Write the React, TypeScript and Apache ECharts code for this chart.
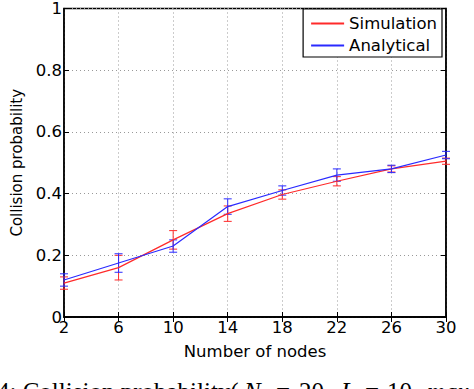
import React, { useEffect, useRef } from "react";
import * as echarts from "echarts";

const nodes = ["2", "6", "10", "14", "18", "22", "26", "30"];
const simulation = [0.11, 0.16, 0.25, 0.335, 0.397, 0.44, 0.48, 0.505];
const simulationErr = [0.02, 0.04, 0.03, 0.025, 0.015, 0.015, 0.01, 0.01];
const analytical = [0.12, 0.175, 0.23, 0.358, 0.41, 0.46, 0.48, 0.525];
const analyticalErr = [0.02, 0.03, 0.02, 0.025, 0.015, 0.02, 0.012, 0.012];

const RED = "#ff2a2a";
const BLUE = "#2a2aff";

function errorSeries(name: string, vals: number[], errs: number[], color: string) {
  const data = vals.map((v, i) => [i, v - errs[i], v + errs[i]]);
  return {
    type: "custom",
    name: name + " err",
    silent: true,
    z: 3,
    renderItem: (params: any, api: any) => {
      const x = api.value(0);
      const lo = api.coord([x, api.value(1)]);
      const hi = api.coord([x, api.value(2)]);
      const w = 4;
      const style = { stroke: color, lineWidth: 1, fill: "none" };
      return {
        type: "group",
        children: [
          { type: "line", shape: { x1: lo[0], y1: lo[1], x2: hi[0], y2: hi[1] }, style },
          { type: "line", shape: { x1: lo[0] - w, y1: lo[1], x2: lo[0] + w, y2: lo[1] }, style },
          { type: "line", shape: { x1: hi[0] - w, y1: hi[1], x2: hi[0] + w, y2: hi[1] }, style },
        ],
      };
    },
    data,
  };
}

const serif = "'Liberation Serif', 'Times New Roman', serif";
function cap(text: string, x: number, italic = false) {
  return {
    type: "text",
    x,
    y: 391,
    style: {
      text,
      fontSize: 25,
      fontFamily: serif,
      fontStyle: italic ? "italic" : "normal",
      fill: "#000",
      verticalAlign: "middle",
      align: "left",
    },
  };
}

export default function App() {
  const ref = useRef<HTMLDivElement>(null);
  useEffect(() => {
    if (!ref.current) return;
    const chart = echarts.init(ref.current, null, { renderer: "svg" });
    const font = "'DejaVu Sans', sans-serif";
    const grid = { left: 64, right: 28, top: 5, bottom: 72 };
    chart.setOption({
      animation: false,
      backgroundColor: "#fff",
      textStyle: { fontFamily: font },
      grid: { ...grid, show: true, borderColor: "#000", borderWidth: 1.5, backgroundColor: "transparent" },
      legend: {
        right: 32,
        top: 9,
        orient: "vertical",
        backgroundColor: "#fff",
        borderColor: "#000",
        borderWidth: 1.2,
        padding: [6, 5, 3, 8],
        itemGap: 5,
        itemWidth: 33,
        itemHeight: 2,
        icon: "rect",
        textStyle: { fontSize: 16.5, color: "#000", fontFamily: font },
        data: [
          { name: "Simulation", itemStyle: { color: RED } },
          { name: "Analytical", itemStyle: { color: BLUE } },
        ],
      },
      xAxis: [
        {
          type: "category",
          data: nodes,
          boundaryGap: false,
          name: "Number of nodes",
          nameLocation: "middle",
          nameGap: 26,
          nameTextStyle: { fontSize: 16.5, color: "#000", fontFamily: font },
          axisLine: { lineStyle: { color: "#000", width: 1.5 } },
          axisTick: { inside: true, length: 5, lineStyle: { color: "#000" } },
          axisLabel: { fontSize: 16.5, color: "#000", margin: 2, fontFamily: font },
          splitLine: { show: true, lineStyle: { color: "#999", type: [1, 3], width: 1 } },
        },
        {
          type: "category",
          data: nodes,
          boundaryGap: false,
          position: "top",
          axisLine: { lineStyle: { color: "#000", width: 1.5 } },
          axisTick: { inside: true, length: 5, lineStyle: { color: "#000" } },
          axisLabel: { show: false },
          splitLine: { show: false },
        },
      ],
      yAxis: [
        {
          type: "value",
          min: 0,
          max: 1,
          interval: 0.2,
          name: "Collision probability",
          nameLocation: "middle",
          nameGap: 36,
          nameTextStyle: { fontSize: 15, color: "#000", fontFamily: font },
          axisLine: { show: true, lineStyle: { color: "#000", width: 1.5 } },
          axisTick: { show: true, inside: true, length: 5, lineStyle: { color: "#000" } },
          axisLabel: { fontSize: 16.5, color: "#000", margin: 2, fontFamily: font },
          splitLine: { show: true, lineStyle: { color: "#999", type: [1, 3], width: 1 } },
        },
        {
          type: "value",
          min: 0,
          max: 1,
          interval: 0.2,
          position: "right",
          axisLine: { show: true, lineStyle: { color: "#000", width: 1.5 } },
          axisTick: { show: true, inside: true, length: 5, lineStyle: { color: "#000" } },
          axisLabel: { show: false },
          splitLine: { show: false },
        },
      ],
      series: [
        {
          type: "line",
          name: "Simulation",
          data: simulation,
          symbol: "none",
          lineStyle: { color: RED, width: 1.2 },
          itemStyle: { color: RED },
          z: 4,
        },
        {
          type: "line",
          name: "Analytical",
          data: analytical,
          symbol: "none",
          lineStyle: { color: BLUE, width: 1.2 },
          itemStyle: { color: BLUE },
          z: 5,
        },
        errorSeries("Simulation", simulation, simulationErr, RED),
        errorSeries("Analytical", analytical, analyticalErr, BLUE),
      ],
      graphic: [
        cap("4: Collision probability(", -3),
        cap("N", 244, true),
        cap("=", 276),
        cap("20,", 299),
        cap("L", 341, true),
        cap("=", 365),
        cap("10,", 387),
        cap("max", 427, true),
      ],
    });
    return () => chart.dispose();
  }, []);
  return <div ref={ref} style={{ width: 474, height: 389, position: "absolute", left: 0, top: 0 }} />;
}
